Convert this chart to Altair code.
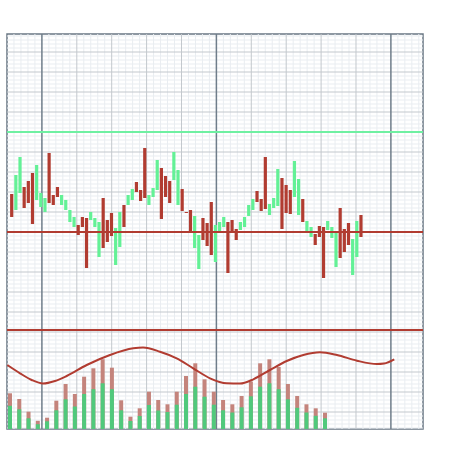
import altair as alt
import pandas as pd

# ---------------- data ----------------
# candle bodies (price units), one per trading slot
c_open = [103.8, 102.2, 103.9, 104.5, 105.1, 105.9, 103.2, 102.5, 102.0, 107.9,
          103.7, 104.5, 102.7, 102.2, 101.0, 100.5, 100.7, 101.5, 101.4, 101.2,
          100.5, 97.5, 103.4, 101.2, 101.9, 96.7, 98.5, 102.7, 102.7, 103.2,
          105.0, 104.2, 108.4, 102.7, 103.5, 104.2, 106.4, 105.6, 105.1, 105.2,
          102.7, 104.3, 102.0, 102.2, 98.4, 96.3, 101.4, 100.9, 103.0, 97.0,
          100.0, 100.5, 101.0, 101.2, 100.3, 100.2, 100.5, 101.6, 102.2, 104.1,
          103.3, 107.5, 101.7, 102.4, 102.6, 105.4, 104.7, 104.2, 103.5, 101.7,
          103.3, 100.1, 99.5, 99.8, 100.6, 100.5, 100.2, 99.4, 96.5, 102.4,
          100.3, 100.9, 95.7, 97.5, 101.7]
c_close = [101.5, 105.7, 107.5, 102.4, 102.9, 100.8, 106.7, 103.9, 103.4, 102.9,
           102.7, 103.5, 103.7, 103.2, 102.2, 101.5, 99.7, 100.5, 96.4, 102.0,
           101.4, 101.0, 98.4, 99.0, 99.6, 100.4, 102.0, 100.5, 103.7, 104.3,
           104.0, 103.1, 103.4, 103.7, 104.4, 107.2, 101.3, 103.5, 102.9, 108.0,
           106.2, 102.1, 101.9, 100.0, 101.6, 99.7, 99.2, 98.6, 97.7, 100.7,
           101.0, 101.5, 95.9, 100.1, 99.2, 101.0, 101.5, 102.7, 103.3, 103.0,
           102.1, 102.3, 102.8, 103.4, 106.3, 100.3, 101.9, 101.8, 107.1, 105.3,
           101.0, 101.1, 100.5, 98.7, 99.5, 95.4, 101.1, 100.5, 100.0, 97.4,
           98.0, 98.7, 99.3, 101.1, 99.5]

# volume bars: total and green (up) part
vol_total = [357, 300, 173, 82, 113, 283, 450, 350, 523, 607, 698, 613, 287, 123,
             207, 373, 290, 247, 373, 530, 657, 497, 373, 290, 247, 330, 475, 657,
             697, 620, 450, 330, 247, 207, 163]
vol_green = [232, 197, 107, 48, 77, 187, 297, 225, 350, 398, 457, 398, 187, 80,
             130, 240, 185, 170, 243, 350, 423, 323, 243, 187, 165, 217, 327, 423,
             457, 398, 297, 212, 165, 132, 107]

# smooth indicator curve in the lower panel (volume-index units, volume units)
curve_x = [-0.29, 1.08, 2.34, 3.56, 4.86, 6.12, 8.28, 10.79, 13.31, 14.36, 16.19,
           17.99, 19.78, 21.59, 23.39, 24.82, 26.26, 28.06, 29.87, 31.66, 33.46,
           35.29, 37.45, 39.61, 40.37, 41.48]
curve_v = [640, 557, 490, 455, 480, 530, 640, 740, 807, 815, 773, 707, 607, 507,
           457, 455, 497, 590, 680, 740, 767, 740, 683, 650, 655, 697]

# horizontal price levels
level_price = [110.0, 100.0, 90.2]
level_color = ["#6ff0a2", "#b13c31", "#b13c31"]

# ---------------- styling ----------------
GREEN = "#63f196"
RED = "#b13c31"
VGREEN = "#50c97c"
VRED = "#c4847c"

PRICE_DOM = [80.3, 119.8]
CANDLE_X = [-1.13, 98.92]
VOL_X = [-0.324, 44.58]
VOL_Y = [0, 3950]
GRID_X = [0, 11.92]
GRID_Y = [0.15, 19.9]


def sc(dom):
    return alt.Scale(domain=dom, nice=False, zero=False, padding=0)


# grid positions
vx_minor = [k * 0.2 for k in range(1, 60) if k % 5 != 0]
vx_mid = [k for k in range(1, 12) if k not in (1, 6, 11)]
vx_major = [1, 6, 11]
hy_minor = [k * 0.2 for k in range(1, 100) if k % 5 != 0]
hy_mid = [k for k in range(1, 20)]


def vrules(vals, color, w):
    return alt.Chart(pd.DataFrame({"g": vals})).mark_rule(color=color, strokeWidth=w).encode(
        x=alt.X("g:Q", scale=sc(GRID_X), axis=None))


def hrules(vals, color, w):
    return alt.Chart(pd.DataFrame({"g": vals})).mark_rule(color=color, strokeWidth=w).encode(
        y=alt.Y("g:Q", scale=sc(GRID_Y), axis=None))


grid = [
    vrules(vx_minor, "#e9edf1", 1), hrules(hy_minor, "#e9edf1", 1),
    vrules(vx_mid, "#c3c8cd", 1), hrules(hy_mid, "#c3c8cd", 1),
    vrules(vx_major, "#6f7d8a", 1.5),
]

cdf = pd.DataFrame({"i": list(range(len(c_open))), "open": c_open, "close": c_close})
cdf["dir"] = ["up" if c >= o else "down" for o, c in zip(c_open, c_close)]

candles = alt.Chart(cdf).mark_bar(size=3.2).encode(
    x=alt.X("i:Q", scale=sc(CANDLE_X), axis=None),
    y=alt.Y("open:Q", scale=sc(PRICE_DOM), axis=None),
    y2="close:Q",
    color=alt.Color("dir:N", scale=alt.Scale(domain=["up", "down"], range=[GREEN, RED]), legend=None),
)

vdf = pd.DataFrame({"j": list(range(len(vol_total))), "total": vol_total, "green": vol_green})
vol_red = alt.Chart(vdf).mark_bar(size=4, color=VRED).encode(
    x=alt.X("j:Q", scale=sc(VOL_X), axis=None),
    y=alt.Y("total:Q", scale=sc(VOL_Y), axis=None),
    y2=alt.datum(0),
)
vol_grn = alt.Chart(vdf).mark_bar(size=4, color=VGREEN).encode(
    x=alt.X("j:Q", scale=sc(VOL_X), axis=None),
    y=alt.Y("green:Q", scale=sc(VOL_Y), axis=None),
    y2=alt.datum(0),
)

curve = alt.Chart(pd.DataFrame({"j": curve_x, "v": curve_v})).mark_line(
    color=RED, strokeWidth=2, interpolate="monotone").encode(
    x=alt.X("j:Q", scale=sc(VOL_X), axis=None),
    y=alt.Y("v:Q", scale=sc(VOL_Y), axis=None),
)

levels = alt.Chart(pd.DataFrame({"p": level_price, "c": level_color})).mark_rule(strokeWidth=2).encode(
    y=alt.Y("p:Q", scale=sc(PRICE_DOM), axis=None),
    color=alt.Color("c:N", scale=None),
)

chart = alt.layer(*grid, vol_red, vol_grn, curve, candles, levels).resolve_scale(
    x="independent", y="independent", color="independent"
).properties(
    width=416, height=395,
    padding={"left": 7, "top": 34, "right": 51, "bottom": 45},
    autosize=alt.AutoSizeParams(type="none"),
).configure_view(stroke="#6a7784", strokeWidth=1.5)

chart.save("out.html", embed_options={"renderer": "svg", "actions": False})
